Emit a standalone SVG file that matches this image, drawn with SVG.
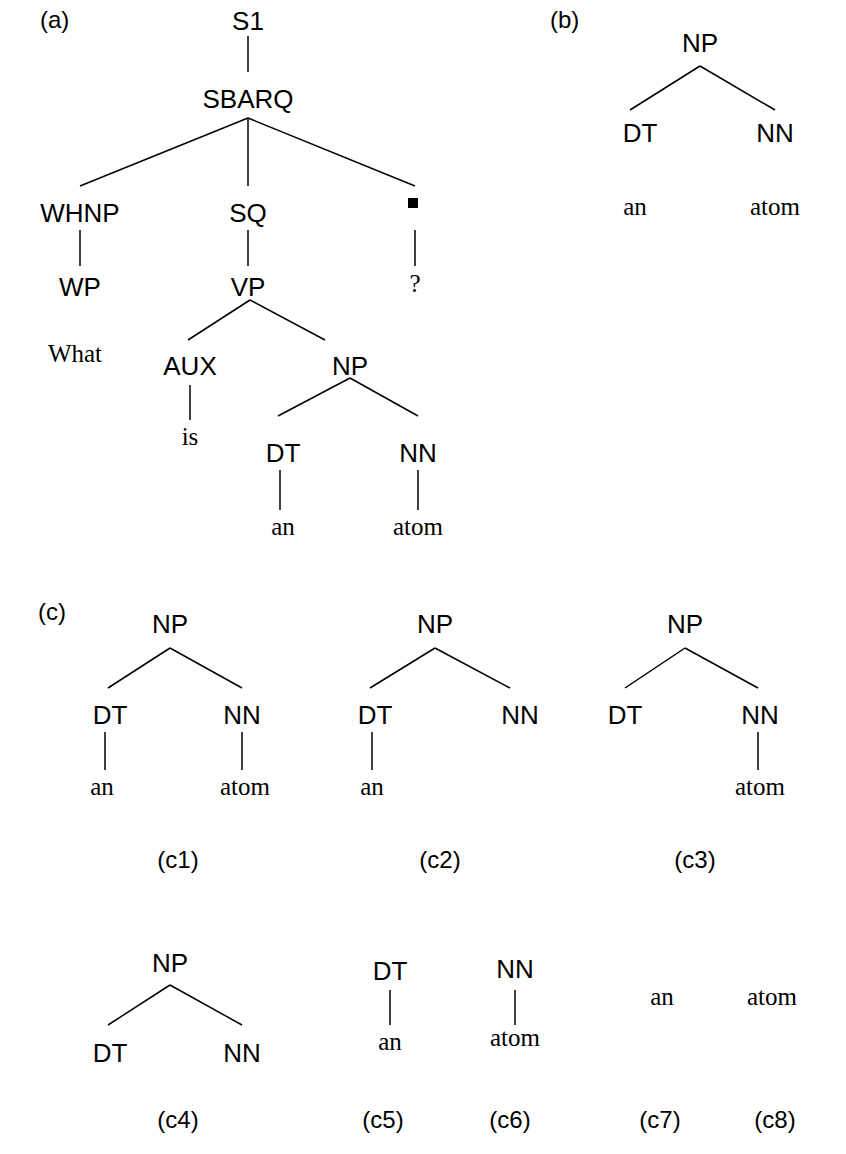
<svg xmlns="http://www.w3.org/2000/svg" width="846" height="1154" viewBox="0 0 846 1154">
<style>
.s{font-family:"Liberation Sans",Arial,sans-serif;font-size:26px;text-anchor:middle;fill:#000}
.r{font-family:"Liberation Serif","Times New Roman",serif;font-size:25px;text-anchor:middle;fill:#000}
.l{font-family:"Liberation Sans",Arial,sans-serif;font-size:24px;fill:#000}
line{stroke:#000;stroke-width:1.5}
</style>
<rect width="846" height="1154" fill="#fff"/>
<text class="l" x="40" y="28">(a)</text>
<text class="l" x="550" y="28">(b)</text>
<text class="l" x="38" y="620">(c)</text>
<g id="connectors">
<line x1="248" y1="36" x2="248" y2="72"/>
<line x1="248" y1="118" x2="80" y2="186"/>
<line x1="248" y1="118" x2="248" y2="186"/>
<line x1="248" y1="118" x2="415" y2="186"/>
<line x1="80" y1="230" x2="80" y2="266"/>
<line x1="248" y1="230" x2="248" y2="266"/>
<line x1="415" y1="230" x2="415" y2="266"/>
<line x1="250" y1="300" x2="188" y2="340"/>
<line x1="250" y1="300" x2="325" y2="340"/>
<line x1="190" y1="385" x2="190" y2="420"/>
<line x1="350" y1="378" x2="278" y2="416"/>
<line x1="350" y1="378" x2="418" y2="416"/>
<line x1="280" y1="470" x2="280" y2="510"/>
<line x1="418" y1="470" x2="418" y2="510"/>
<line x1="700" y1="66" x2="630" y2="110"/>
<line x1="700" y1="66" x2="775" y2="110"/>
<line x1="170" y1="648" x2="108" y2="688"/>
<line x1="170" y1="648" x2="242" y2="688"/>
<line x1="105" y1="732" x2="105" y2="770"/>
<line x1="242" y1="732" x2="242" y2="770"/>
<line x1="435" y1="648" x2="370" y2="688"/>
<line x1="435" y1="648" x2="510" y2="688"/>
<line x1="372" y1="732" x2="372" y2="770"/>
<line x1="685" y1="648" x2="625" y2="688"/>
<line x1="685" y1="648" x2="758" y2="688"/>
<line x1="758" y1="732" x2="758" y2="770"/>
<line x1="170" y1="985" x2="108" y2="1025"/>
<line x1="170" y1="985" x2="242" y2="1025"/>
<line x1="390" y1="990" x2="390" y2="1025"/>
<line x1="515" y1="990" x2="515" y2="1025"/>
</g>
<g id="a">
<text class="s" x="248" y="30">S1</text>
<text class="s" x="248" y="108">SBARQ</text>
<text class="s" x="80" y="222">WHNP</text>
<text class="s" x="248" y="222">SQ</text>
<rect x="408" y="198" width="10" height="10" fill="#000"/>
<text class="s" x="80" y="296">WP</text>
<text class="s" x="248" y="296">VP</text>
<text class="r" x="415" y="292">?</text>
<text class="r" x="75" y="362">What</text>
<text class="s" x="190" y="375">AUX</text>
<text class="s" x="350" y="375">NP</text>
<text class="r" x="190" y="445">is</text>
<text class="s" x="283" y="462">DT</text>
<text class="s" x="418" y="462">NN</text>
<text class="r" x="283" y="535">an</text>
<text class="r" x="418" y="535">atom</text>
</g>
<g id="b">
<text class="s" x="700" y="52">NP</text>
<text class="s" x="640" y="142">DT</text>
<text class="s" x="775" y="142">NN</text>
<text class="r" x="635" y="215">an</text>
<text class="r" x="775" y="215">atom</text>
</g>
<g id="c1">
<text class="s" x="170" y="633">NP</text>
<text class="s" x="110" y="724">DT</text>
<text class="s" x="242" y="724">NN</text>
<text class="r" x="102" y="795">an</text>
<text class="r" x="245" y="795">atom</text>
<text class="l" x="178" y="868" text-anchor="middle">(c1)</text>
</g>
<g id="c2">
<text class="s" x="435" y="633">NP</text>
<text class="s" x="375" y="724">DT</text>
<text class="s" x="520" y="724">NN</text>
<text class="r" x="372" y="795">an</text>
<text class="l" x="440" y="868" text-anchor="middle">(c2)</text>
</g>
<g id="c3">
<text class="s" x="685" y="633">NP</text>
<text class="s" x="625" y="724">DT</text>
<text class="s" x="760" y="724">NN</text>
<text class="r" x="760" y="795">atom</text>
<text class="l" x="695" y="868" text-anchor="middle">(c3)</text>
</g>
<g id="c4">
<text class="s" x="170" y="972">NP</text>
<text class="s" x="110" y="1062">DT</text>
<text class="s" x="242" y="1062">NN</text>
<text class="l" x="178" y="1128" text-anchor="middle">(c4)</text>
</g>
<g id="c5">
<text class="s" x="390" y="980">DT</text>
<text class="r" x="390" y="1050">an</text>
<text class="l" x="383" y="1128" text-anchor="middle">(c5)</text>
</g>
<g id="c6">
<text class="s" x="515" y="978">NN</text>
<text class="r" x="515" y="1046">atom</text>
<text class="l" x="510" y="1128" text-anchor="middle">(c6)</text>
</g>
<g id="c7">
<text class="r" x="662" y="1005">an</text>
<text class="l" x="660" y="1128" text-anchor="middle">(c7)</text>
</g>
<g id="c8">
<text class="r" x="772" y="1005">atom</text>
<text class="l" x="775" y="1128" text-anchor="middle">(c8)</text>
</g>
</svg>
